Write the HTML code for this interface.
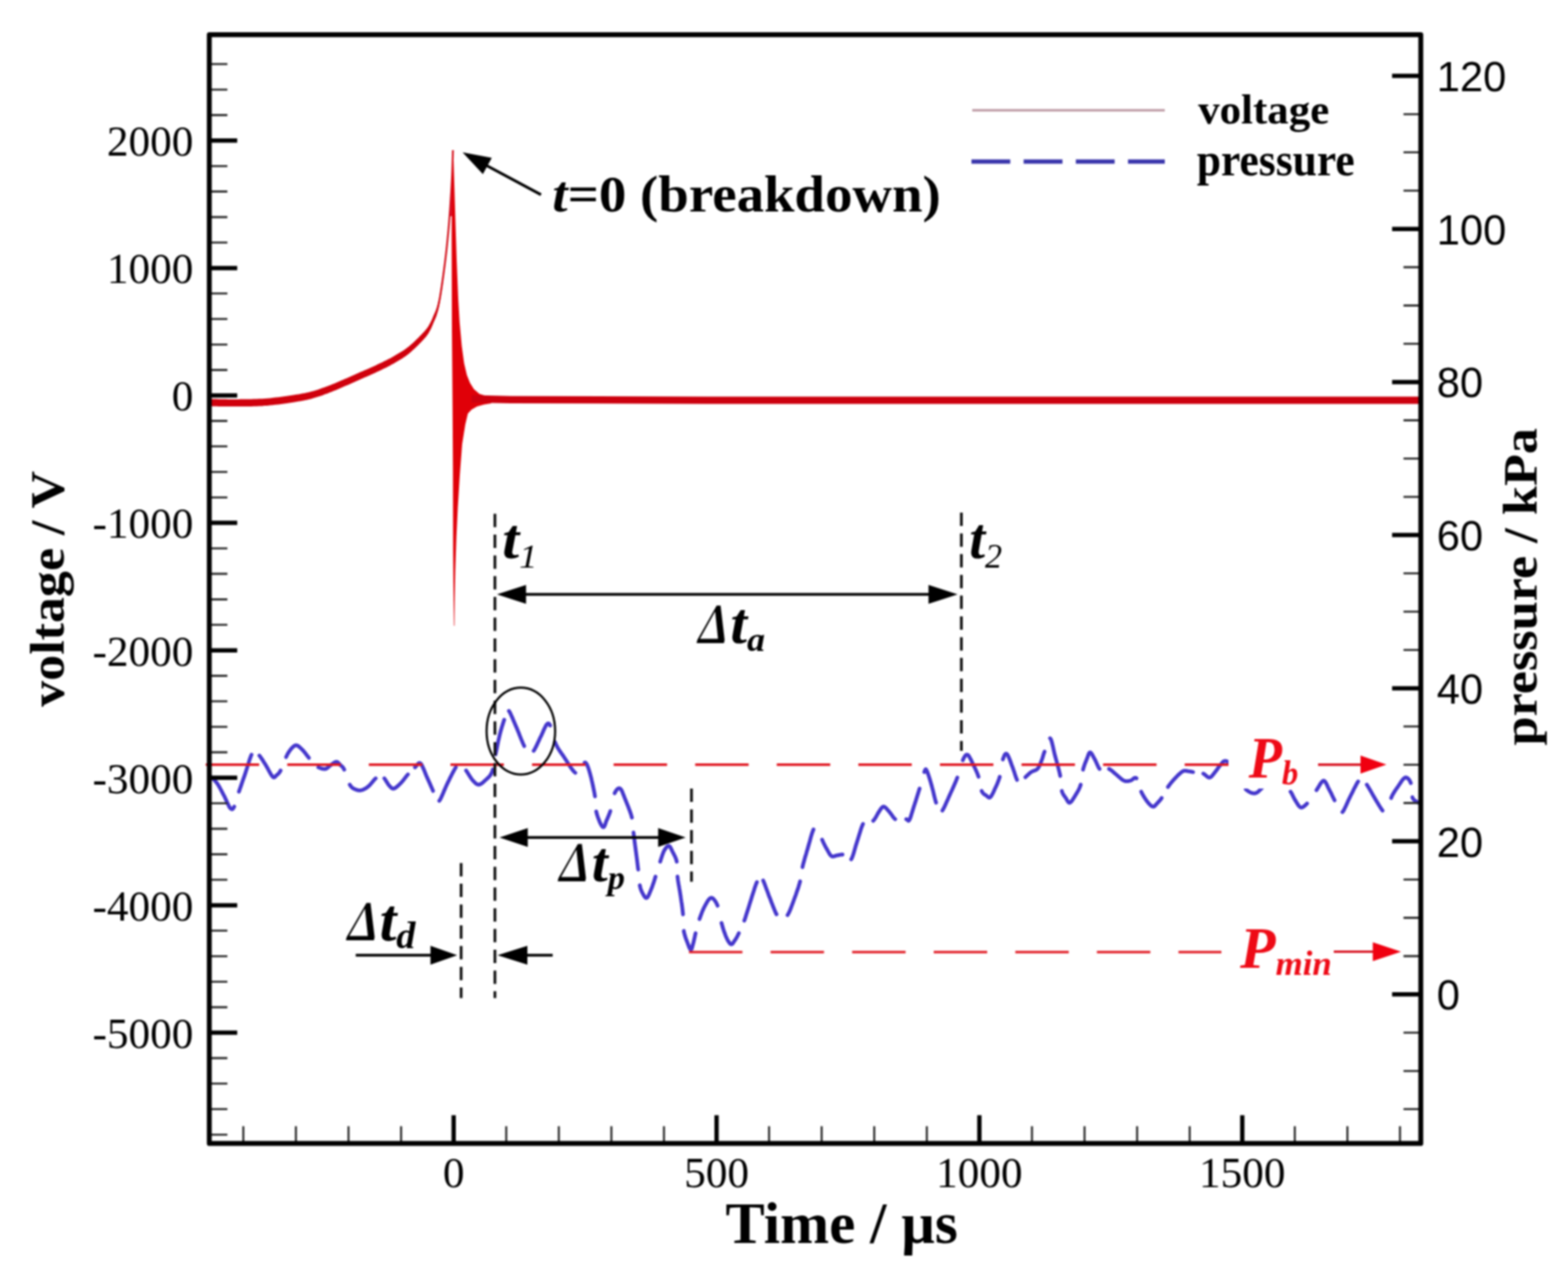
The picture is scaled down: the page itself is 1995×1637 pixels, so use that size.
<!DOCTYPE html>
<html><head><meta charset="utf-8"><title>voltage and pressure vs time</title>
<style>html,body{margin:0;padding:0;background:#fff;}svg{display:block;}.s{font-family:"Liberation Serif", "Times New Roman", serif;}.a{font-family:"Liberation Sans", Arial, sans-serif;}</style></head><body>
<div id="fig" style="width:1995px;height:1637px;overflow:hidden;filter:blur(1px)"><svg width="1995" height="1637" viewBox="0 0 1995 1637">
<rect x="0" y="0" width="1995" height="1637" fill="#fff"/>
<defs><clipPath id="pc"><rect x="266.3" y="44.2" width="1541.4" height="1410.2"/></clipPath></defs>
<line x1="1237" y1="140.3" x2="1482" y2="140.3" stroke="#bc98a2" stroke-width="3"/>
<line x1="1236" y1="205.4" x2="1482" y2="205.4" stroke="#3a36ac" stroke-width="5.5" stroke-dasharray="49.4 17"/>
<g clip-path="url(#pc)"><path d="M268,988 268.6,988.5 269.2,989.1 269.9,989.7 270.7,990.4 271.6,991.1 272.4,991.9 273.3,992.8 274.2,993.8 275.1,994.8 276,996 276.9,997.3 277.8,998.7 278.7,1000.2 279.6,1001.8 280.5,1003.5 281.4,1005.2 282.3,1006.9 283.2,1008.7 284.1,1010.4 285,1012 285.9,1013.7 286.7,1015.5 287.6,1017.4 288.4,1019.3 289.2,1021.1 290.1,1022.9 290.9,1024.5 291.6,1026 292.3,1027.1 293,1028 293.6,1028.6 294.2,1029 294.7,1029.3 295.2,1029.3 295.6,1029.2 296.1,1028.9 296.5,1028.4 297,1027.8 297.5,1027 298,1026 M304,1007 304.7,1004.9 305.5,1002.7 306.3,1000.4 307.1,998.1 307.9,995.8 308.7,993.5 309.5,991.1 310.4,988.7 311.2,986.4 312,984 312.8,981.5 313.6,978.9 314.5,976.2 315.3,973.4 316.2,970.7 317,968.1 317.8,965.6 318.6,963.4 319.3,961.5 320,960 M330,961 330.7,961.8 331.4,962.8 332.1,963.8 332.9,965 333.8,966.2 334.6,967.6 335.4,968.9 336.3,970.3 337.1,971.6 338,973 338.9,974.5 339.8,976.1 340.8,977.8 341.7,979.6 342.7,981.4 343.6,983.1 344.6,984.7 345.4,986 346.3,987.2 347,988 347.7,988.5 348.3,988.8 348.8,988.8 349.3,988.6 349.8,988.3 350.2,987.9 350.6,987.4 351.1,986.9 351.5,986.4 352,986 352.5,985.6 353,985.2 353.4,984.8 353.9,984.4 354.4,983.9 354.9,983.4 355.4,982.7 355.9,982 356.4,981.1 357,980 M364,963 364.6,961.7 365.2,960.5 365.8,959.3 366.4,958.3 367,957.2 367.6,956.3 368.2,955.4 368.8,954.6 369.4,953.8 370,953 370.7,952.2 371.3,951.5 372,950.8 372.7,950.1 373.4,949.5 374.1,949 374.8,948.5 375.5,948.2 376.3,948 377,948 377.8,948.1 378.5,948.4 379.3,948.9 380.1,949.4 380.9,950.1 381.8,950.8 382.6,951.6 383.4,952.4 384.2,953.2 385,954 385.8,954.8 386.6,955.8 387.5,956.8 388.3,957.8 389.1,958.9 389.9,960 390.7,961 391.5,962.1 392.3,963.1 393,964 M405,976 405.8,976.3 406.6,976.6 407.5,977 408.5,977.3 409.4,977.6 410.4,977.8 411.4,978 412.3,978.1 413.2,978.1 414,978 414.8,977.8 415.5,977.4 416.2,977 416.9,976.5 417.6,975.9 418.3,975.3 419,974.6 419.6,974 420.3,973.5 421,973 421.7,972.5 422.4,972 423.2,971.5 423.9,970.9 424.6,970.4 425.3,970 426,969.6 426.7,969.3 427.4,969.1 428,969 428.6,969.1 429.1,969.3 429.6,969.5 430.1,969.9 430.6,970.4 431.1,970.9 431.6,971.4 432,971.9 432.5,972.5 433,973 433.5,973.5 434,973.9 434.4,974.2 434.9,974.6 435.4,975.1 435.9,975.6 436.4,976.2 436.9,976.9 437.4,977.9 438,979 M445,998 445.7,999.1 446.4,1000.1 447.1,1000.9 447.8,1001.6 448.4,1002.1 449.1,1002.6 449.8,1003 450.5,1003.3 451.3,1003.7 452,1004 452.8,1004.3 453.5,1004.6 454.3,1004.9 455.1,1005 455.9,1005.2 456.7,1005.3 457.5,1005.3 458.3,1005.3 459.2,1005.2 460,1005 460.9,1004.8 461.7,1004.5 462.6,1004.1 463.5,1003.7 464.4,1003.2 465.4,1002.6 466.3,1002.1 467.2,1001.4 468.1,1000.7 469,1000 469.9,999.2 470.8,998.2 471.8,997.1 472.7,996 473.7,994.9 474.6,993.7 475.5,992.6 476.4,991.6 477.2,990.7 478,990 M489,990 489.6,990.7 490.1,991.5 490.7,992.4 491.3,993.4 491.9,994.4 492.6,995.5 493.2,996.5 493.8,997.4 494.4,998.3 495,999 495.6,999.7 496.2,1000.3 496.7,1000.9 497.3,1001.5 497.8,1002 498.4,1002.4 499,1002.8 499.6,1003 500.3,1003.1 501,1003 501.8,1002.8 502.6,1002.4 503.5,1001.8 504.4,1001.2 505.3,1000.4 506.3,999.6 507.2,998.7 508.2,997.8 509.1,996.9 510,996 510.9,995.1 511.8,994 512.7,992.9 513.6,991.8 514.5,990.6 515.4,989.4 516.3,988.3 517.2,987.1 518.1,986 519,985 M528,976 528.8,975.2 529.5,974.4 530.2,973.5 530.9,972.7 531.6,971.9 532.2,971.2 532.9,970.8 533.6,970.5 534.3,970.6 535,971 535.8,971.8 536.5,973 537.3,974.5 538.1,976.2 538.9,978.1 539.8,980.1 540.6,982.1 541.4,984.2 542.2,986.2 543,988 543.8,989.8 544.6,991.6 545.5,993.5 546.3,995.4 547.2,997.3 548,999.2 548.8,1001 549.6,1002.8 550.3,1004.4 551,1006 M558.9,1018.6 559.4,1017.9 560,1017 560.7,1015.8 561.4,1014.2 562.3,1012.4 563.1,1010.4 564.1,1008.2 565,1006 566,1003.7 567,1001.4 568,999.1 569,997 570,994.9 571.2,992.6 572.3,990.2 573.5,987.9 574.7,985.5 575.9,983.2 577,981.1 578.1,979.1 579.1,977.4 580,976 M593,980 593.8,981.1 594.5,982.2 595.3,983.5 596.1,984.8 596.9,986.1 597.8,987.4 598.6,988.7 599.4,989.9 600.2,991 601,992 601.8,992.9 602.6,993.8 603.4,994.6 604.2,995.4 604.9,996.1 605.7,996.8 606.5,997.3 607.3,997.7 608.2,997.9 609,998 609.9,997.9 610.8,997.6 611.7,997.2 612.6,996.7 613.5,996 614.4,995.3 615.3,994.5 616.2,993.6 617.1,992.8 618,992 618.9,991.2 619.7,990.4 620.6,989.6 621.5,988.8 622.3,987.9 623.1,986.9 623.9,985.9 624.7,984.7 625.4,983.4 626,982 626.6,980.4 627,978.8 M630.5,959.5 631.1,956.8 631.7,953.9 632.3,951 632.9,948 633.5,945 634.1,942.1 634.8,939.2 635.4,936.5 636,934 636.6,931.6 637.2,929.3 637.9,927 638.5,924.8 639.2,922.8 639.8,920.8 640.4,918.9 641,917.1 641.5,915.5 M647.5,904.2 648,905 648.7,906.1 649.4,907.6 650.2,909.3 651.1,911.3 652.1,913.4 653,915.7 654,918 655,920.4 656,922.7 657,925 658,927.3 659,929.8 660.1,932.4 661.1,935.1 662.2,937.8 663.2,940.4 664.3,942.9 665.2,945.2 666.2,947.2 667,949 M679,955 679.8,953.8 680.6,952.4 681.5,950.7 682.4,948.9 683.4,946.9 684.3,944.8 685.3,942.8 686.2,940.7 687.1,938.8 688,937 688.9,935.2 689.7,933.4 690.6,931.4 691.4,929.5 692.2,927.6 693.1,925.9 693.9,924.3 694.6,922.9 695.3,921.8 696,921 696.6,920.5 697.2,920.2 697.7,920.2 698.2,920.3 698.6,920.7 699.1,921.2 699.5,921.9 700,922.8 M706.2,944 707,946 707.8,947.8 708.7,949.4 709.5,951 710.5,952.5 711.4,954 712.4,955.5 713.5,957 714.6,958.6 715.8,960.2 717,962 718.3,964 719.8,966.3 721.4,968.8 723,971.3 724.7,973.9 726.3,976.3 727.9,978.5 729.4,980.4 730.8,982 732,983 M743.8,970 744.4,969.8 745,970 745.6,970.6 746.2,971.4 746.8,972.5 747.4,973.8 748,975.3 748.6,977 749.2,978.9 749.8,980.8 750.4,982.9 751,985 751.6,987.3 752.3,989.9 752.9,992.7 753.6,995.6 754.2,998.6 754.9,1001.7 755.5,1004.7 756.1,1007.6 756.6,1010.4 757,1013 M758.6,1032.1 759,1034 759.6,1036 760.3,1038.2 761.1,1040.5 761.9,1042.7 762.8,1044.9 763.7,1046.9 764.6,1048.7 765.5,1050.2 766.3,1051.3 767,1052 767.6,1052.2 768.2,1052 768.7,1051.4 769.2,1050.5 769.7,1049.4 770.1,1048.2 770.6,1046.8 771,1045.5 771.5,1044.2 772,1043 772.5,1041.9 773,1040.8 773.5,1039.6 774,1038.5 774.5,1037.2 775,1036 775.5,1034.6 776,1033.2 776.5,1031.6 M782,1009 782.6,1007.7 783.3,1006.5 784,1005.4 784.7,1004.5 785.4,1003.8 786.1,1003.2 786.8,1002.8 787.6,1002.6 788.3,1002.7 789,1003 789.7,1003.6 790.4,1004.5 791.1,1005.7 791.8,1007.2 792.4,1008.8 793.1,1010.5 793.8,1012.3 794.5,1014.2 795.3,1016.1 796,1018 796.8,1019.9 797.6,1022 798.5,1024.2 799.4,1026.4 800.3,1028.8 801.2,1031.1 802,1033.4 802.8,1035.7 803.4,1037.9 804,1040 M806,1059 806.5,1062.7 807,1067 807.6,1071.9 808.3,1077.1 809,1082.4 809.7,1087.8 810.4,1093 811,1097.9 811.5,1102.3 812,1106 M814,1126 814.3,1127.5 814.7,1128.9 815,1130.2 815.4,1131.3 815.8,1132.4 816.2,1133.5 816.7,1134.4 817.1,1135.3 817.6,1136.2 818,1137 818.5,1137.8 818.9,1138.7 819.4,1139.5 819.9,1140.2 820.4,1140.9 820.9,1141.5 821.4,1141.9 821.9,1142.2 822.5,1142.2 823,1142 823.6,1141.5 824.2,1140.7 824.8,1139.7 825.4,1138.6 826,1137.2 826.6,1135.8 827.2,1134.4 827.8,1132.9 828.4,1131.4 829,1130 829.5,1128.6 830,1127.3 830.5,1125.8 831,1124.4 831.5,1122.9 832,1121.4 832.5,1119.9 833,1118.3 833.5,1116.7 834,1115 M840,1096 840.5,1094.4 841,1092.8 841.5,1091.2 842,1089.7 842.5,1088.2 843,1086.8 843.5,1085.5 844,1084.2 844.5,1083.1 845,1082 845.6,1081 846.2,1080.1 846.8,1079.2 847.4,1078.4 848,1077.6 848.6,1077 849.2,1076.5 849.8,1076.2 850.4,1076 851,1076 851.5,1076.2 852.1,1076.6 852.6,1077.2 853.1,1078 853.6,1078.9 854,1079.8 854.5,1080.9 855,1081.9 855.5,1083 856,1084 856.5,1085 857.1,1086 857.6,1087.1 858.2,1088.2 858.8,1089.3 859.3,1090.5 859.8,1091.8 860.3,1093.1 860.7,1094.5 861,1096 M862,1115 862.3,1117.3 862.6,1119.6 863,1122.1 863.4,1124.7 863.9,1127.2 864.3,1129.9 864.8,1132.5 865.2,1135 865.6,1137.6 866,1140 866.3,1142.4 866.7,1144.8 867,1147.1 867.4,1149.4 867.7,1151.8 868,1154 868.3,1156.3 868.5,1158.6 868.8,1160.8 869,1163 M870,1184 870.3,1185.8 870.8,1187.6 871.2,1189.4 871.8,1191.1 872.3,1192.8 872.9,1194.4 873.4,1195.9 874,1197.4 874.5,1198.7 875,1200 875.4,1201.2 875.9,1202.4 876.3,1203.5 876.7,1204.5 877.1,1205.5 877.5,1206.3 877.9,1207 878.3,1207.6 878.6,1207.9 879,1208 879.3,1207.9 879.7,1207.5 880,1206.9 880.3,1206.2 880.6,1205.3 880.8,1204.3 881.1,1203.3 881.4,1202.2 881.7,1201.1 882,1200 882.3,1198.9 882.6,1197.8 882.8,1196.6 883.1,1195.4 883.4,1194.1 883.7,1192.8 884,1191.4 884.3,1190 884.6,1188.5 885,1187 M890,1169 890.6,1167.2 891.3,1165.4 891.9,1163.6 892.6,1161.8 893.3,1160 894,1158.2 894.8,1156.6 895.5,1154.9 896.3,1153.4 897,1152 897.8,1150.6 898.5,1149.2 899.3,1147.9 900.1,1146.5 900.9,1145.3 901.8,1144.2 902.6,1143.3 903.4,1142.6 904.2,1142.2 905,1142 905.8,1142.1 906.6,1142.5 907.5,1143.2 908.3,1144 909.2,1145 910,1146.2 910.8,1147.5 911.6,1148.9 912.3,1150.4 913,1152 M918,1174 918.6,1176 919.1,1178 919.7,1180 920.3,1181.9 920.9,1183.8 921.6,1185.6 922.2,1187.4 922.8,1189 923.4,1190.6 924,1192 924.6,1193.3 925.2,1194.6 925.8,1195.8 926.4,1196.9 927.1,1197.9 927.7,1198.8 928.3,1199.6 928.9,1200.2 929.4,1200.7 930,1201 930.5,1201.1 931.1,1201 931.6,1200.7 932.1,1200.2 932.6,1199.6 933,1199 933.5,1198.2 934,1197.5 934.5,1196.7 935,1196 935.5,1195.3 936,1194.6 936.4,1193.8 936.9,1193 937.4,1192.2 937.9,1191.3 938.4,1190.3 938.9,1189.3 939.4,1188.2 940,1187 M947,1171 947.8,1168.9 948.5,1166.6 949.3,1164.1 950.1,1161.6 950.9,1159 951.8,1156.4 952.6,1153.7 953.4,1151.1 954.2,1148.5 955,1146 955.8,1143.5 956.6,1140.8 957.5,1138.1 958.3,1135.4 959.2,1132.7 960,1130.1 960.8,1127.7 961.6,1125.5 962.3,1123.6 963,1122 M971,1120 971.6,1121.3 972.3,1123 973,1124.9 973.8,1127 974.6,1129.2 975.5,1131.6 976.4,1134 977.3,1136.4 978.1,1138.8 979,1141 979.9,1143.2 980.8,1145.6 981.7,1148.1 982.7,1150.5 983.6,1153 984.6,1155.4 985.5,1157.6 986.4,1159.7 987.2,1161.5 988,1163 M1002,1164 1002.8,1162.7 1003.6,1161.2 1004.4,1159.6 1005.2,1157.7 1006,1155.8 1006.8,1153.7 1007.6,1151.5 1008.4,1149.4 1009.2,1147.2 1010,1145 1010.8,1142.8 1011.7,1140.4 1012.6,1138 1013.4,1135.5 1014.3,1132.9 1015.2,1130.4 1016,1127.9 1016.7,1125.5 1017.4,1123.2 1018,1121 M1021,1103 1021.5,1100.8 1022.1,1098.4 1022.8,1096 1023.5,1093.4 1024.2,1090.8 1025,1088.2 1025.8,1085.6 1026.5,1083 1027.3,1080.5 1028,1078 1028.7,1075.5 1029.4,1073 1030.2,1070.4 1030.9,1067.7 1031.6,1065.2 1032.3,1062.7 1033,1060.4 1033.7,1058.4 1034.4,1056.5 1035,1055 M1046,1068 1046.6,1069.4 1047.2,1070.8 1047.8,1072.1 1048.4,1073.3 1049,1074.5 1049.6,1075.7 1050.2,1076.8 1050.8,1077.9 1051.4,1078.9 1052,1080 1052.6,1081.1 1053.2,1082.2 1053.8,1083.2 1054.4,1084.3 1054.9,1085.3 1055.5,1086.3 1056.1,1087.1 1056.7,1087.9 1057.4,1088.5 1058,1089 1058.7,1089.3 1059.3,1089.4 1060,1089.4 1060.7,1089.3 1061.4,1089.1 1062.2,1088.9 1062.9,1088.6 1063.6,1088.4 1064.3,1088.1 1065,1088 1065.7,1087.9 1066.4,1087.8 1067.2,1087.6 1067.9,1087.5 1068.6,1087.3 1069.3,1087.2 1070,1087.1 1070.7,1087 1071.4,1087 1072,1087 M1083,1093 1083.7,1091.9 1084.3,1090.4 1085,1088.6 1085.7,1086.5 1086.4,1084.2 1087.1,1081.8 1087.8,1079.3 1088.5,1076.8 1089.3,1074.3 1090,1072 1090.8,1069.6 1091.6,1067.1 1092.4,1064.4 1093.2,1061.7 1094.1,1058.9 1094.9,1056.3 1095.7,1053.8 1096.5,1051.6 1097.3,1049.6 1098,1048 M1111,1044 1111.7,1043.3 1112.4,1042.4 1113.1,1041.4 1113.8,1040.2 1114.6,1038.9 1115.3,1037.6 1116,1036.4 1116.7,1035.1 1117.3,1034 1118,1033 1118.6,1032.1 1119.2,1031.1 1119.8,1030.2 1120.4,1029.3 1121,1028.4 1121.6,1027.7 1122.2,1027 1122.8,1026.5 1123.4,1026.2 1124,1026 1124.7,1026.1 1125.3,1026.3 1126,1026.7 1126.7,1027.3 1127.4,1027.9 1128.1,1028.7 1128.8,1029.5 1129.5,1030.3 1130.3,1031.2 1131,1032 1131.8,1032.9 1132.6,1033.9 1133.4,1035 1134.2,1036.1 1135,1037.2 1135.8,1038.4 1136.6,1039.5 1137.4,1040.4 1138.2,1041.3 1139,1042 M1153,1042 1153.5,1042.1 1154,1042.3 1154.4,1042.7 1154.7,1043.1 1155.1,1043.5 1155.4,1043.8 1155.7,1044 1156.1,1044 1156.5,1043.7 1157,1043 1157.5,1042 1158.1,1040.7 1158.6,1039.1 1159.2,1037.4 1159.8,1035.4 1160.4,1033.4 1161.1,1031.3 1161.7,1029.2 1162.4,1027 1163,1025 1163.7,1023 1164.4,1020.8 1165.1,1018.7 1165.8,1016.4 1166.5,1014.2 1167.2,1011.9 1167.9,1009.7 1168.6,1007.4 1169.3,1005.2 1170,1003 M1176,982 1176.4,980.9 1176.7,980.1 1177,979.4 1177.3,978.9 1177.5,978.6 1177.7,978.4 1178,978.5 1178.3,978.8 1178.6,979.3 1179,980 1179.5,981 1180,982.2 1180.6,983.8 1181.2,985.5 1181.8,987.4 1182.5,989.5 1183.1,991.6 1183.8,993.8 1184.4,995.9 1185,998 1185.6,1000.2 1186.2,1002.5 1186.9,1005 1187.5,1007.5 1188.1,1010.1 1188.7,1012.6 1189.3,1015 1189.9,1017.2 1190.5,1019.2 1191,1021 M1199,1031 1199.7,1029.9 1200.5,1028.5 1201.3,1026.9 1202.2,1025 1203.1,1023 1204.1,1020.8 1205.1,1018.6 1206.1,1016.4 1207,1014.2 1208,1012 1209,1009.9 1210,1007.6 1211,1005.4 1212.1,1003 1213.1,1000.7 1214.2,998.3 1215.2,996 1216.2,993.6 1217.1,991.3 1218,989 M1225,967 1225.6,965.6 1226.2,964.3 1226.8,963.2 1227.4,962.2 1228,961.4 1228.6,960.7 1229.2,960.2 1229.8,959.9 1230.4,959.9 1231,960 1231.7,960.4 1232.3,961.1 1233,962.1 1233.7,963.2 1234.4,964.6 1235.2,966 1235.9,967.5 1236.6,969 1237.3,970.6 1238,972 1238.7,973.4 1239.4,974.9 1240.2,976.4 1240.9,978 1241.7,979.6 1242.4,981.3 1243.1,982.9 1243.8,984.6 1244.4,986.3 1245,988 M1249,1006 1249.5,1007.1 1250.1,1008 1250.7,1008.8 1251.3,1009.5 1251.9,1010 1252.6,1010.5 1253.2,1010.9 1253.8,1011.2 1254.4,1011.6 1255,1012 1255.5,1012.4 1256,1012.9 1256.5,1013.3 1257,1013.7 1257.5,1014.1 1258,1014.3 1258.5,1014.5 1259,1014.5 1259.5,1014.3 1260,1014 1260.6,1013.4 1261.1,1012.7 1261.7,1011.8 1262.3,1010.7 1262.9,1009.6 1263.6,1008.3 1264.2,1007 1264.8,1005.7 1265.4,1004.3 1266,1003 1266.6,1001.7 1267.2,1000.4 1267.9,999 1268.5,997.6 1269.1,996.2 1269.7,994.7 1270.3,993.1 1270.9,991.5 1271.5,989.8 1272,988 M1276,966 1276.5,964.6 1276.9,963.3 1277.4,962.1 1277.8,961 1278.3,960.1 1278.8,959.4 1279.3,958.9 1279.9,958.7 1280.4,958.7 1281,959 1281.6,959.7 1282.3,960.7 1283,962.1 1283.7,963.7 1284.4,965.5 1285.2,967.4 1285.9,969.4 1286.6,971.4 1287.3,973.3 1288,975 1288.6,976.7 1289.3,978.6 1289.9,980.5 1290.6,982.4 1291.2,984.4 1291.8,986.2 1292.4,988 1292.9,989.5 1293.5,990.9 1294,992 M1304.6,988.6 1305.4,987.8 1306.4,986.9 1307.3,986 1308.3,985.1 1309.2,984.2 1310.2,983.4 1311.1,982.7 1312,982 1312.9,981.5 1313.7,981 1314.6,980.7 1315.4,980.4 1316.2,980.1 1317.1,979.8 1317.9,979.5 1318.6,979.1 1319.3,978.6 1320,978 1320.6,977.3 1321.2,976.4 1321.8,975.5 1322.3,974.5 1322.8,973.5 1323.2,972.4 1323.7,971.3 1324.1,970.2 1324.6,969.1 1325,968 1325.4,966.9 1325.8,965.8 1326.2,964.7 1326.5,963.6 1326.9,962.4 1327.2,961.3 1327.6,960 1328,958.8 1328.5,957.4 1329,956 M1336,939 1336.6,939.5 1337.2,940.7 1337.8,942.3 1338.4,944.4 1339,946.8 1339.6,949.3 1340.2,952.1 1340.8,954.8 1341.4,957.5 1342,960 1342.7,962.5 1343.4,965.1 1344.2,967.9 1345,970.8 1345.8,973.6 1346.5,976.5 1347.2,979.3 1347.9,982 1348.5,984.6 1349,987 M1351,1006 1351.4,1007.3 1351.8,1008.5 1352.3,1009.5 1352.8,1010.5 1353.3,1011.3 1353.9,1012.1 1354.4,1012.8 1355,1013.6 1355.5,1014.3 1356,1015 1356.5,1015.8 1357,1016.6 1357.4,1017.5 1357.9,1018.3 1358.4,1019.1 1358.9,1019.8 1359.4,1020.4 1359.9,1020.8 1360.4,1021 1361,1021 1361.6,1020.7 1362.3,1020.2 1363,1019.6 1363.7,1018.7 1364.4,1017.8 1365.1,1016.7 1365.8,1015.5 1366.6,1014.4 1367.3,1013.2 1368,1012 1368.7,1010.8 1369.5,1009.6 1370.2,1008.3 1371,1007 1371.8,1005.6 1372.5,1004.2 1373.2,1002.7 1373.9,1001.2 1374.5,999.6 1375,998 M1378,979 1378.4,977.4 1378.9,975.8 1379.4,974.2 1379.9,972.8 1380.4,971.3 1381,969.9 1381.5,968.6 1382,967.3 1382.5,966.1 1383,965 1383.4,963.9 1383.8,962.7 1384.2,961.6 1384.6,960.6 1384.9,959.6 1385.3,958.7 1385.7,958 1386.1,957.4 1386.5,957.1 1387,957 1387.5,957.2 1388.1,957.7 1388.7,958.4 1389.3,959.2 1389.9,960.2 1390.5,961.4 1391.1,962.5 1391.8,963.7 1392.4,964.9 1393,966 1393.6,967.1 1394.2,968.4 1394.8,969.7 1395.4,971.1 1396,972.5 1396.6,973.8 1397.2,975.1 1397.8,976.3 1398.4,977.2 1399,978 M1411,978 1411.8,978.4 1412.6,978.9 1413.4,979.5 1414.3,980.2 1415.2,980.9 1416.2,981.7 1417.1,982.6 1418.1,983.4 1419,984.2 1420,985 1421,985.8 1422,986.7 1423,987.6 1424,988.5 1425.1,989.4 1426.1,990.3 1427.1,991.2 1428.1,991.9 1429.1,992.5 1430,993 1430.9,993.3 1431.7,993.6 1432.5,993.7 1433.3,993.7 1434.1,993.7 1434.9,993.6 1435.7,993.5 1436.4,993.3 1437.2,993.2 1438,993 1438.8,992.7 1439.6,992.3 1440.5,991.7 1441.3,991.1 1442.1,990.4 1442.9,989.9 1443.7,989.5 1444.5,989.4 1445.3,989.5 1446,990 M1452,1007 1452.7,1008.5 1453.5,1010 1454.3,1011.4 1455.1,1012.8 1455.9,1014.2 1456.8,1015.5 1457.6,1016.7 1458.4,1017.9 1459.2,1019 1460,1020 1460.7,1020.9 1461.5,1021.8 1462.2,1022.6 1463,1023.4 1463.7,1024.1 1464.4,1024.7 1465.1,1025.2 1465.7,1025.6 1466.4,1025.8 1467,1026 1467.6,1026 1468.1,1025.9 1468.6,1025.6 1469.1,1025.3 1469.6,1024.8 1470,1024.3 1470.5,1023.7 1471,1023.2 1471.5,1022.6 1472,1022 1472.6,1021.5 1473.1,1020.9 1473.7,1020.3 1474.2,1019.8 1474.8,1019.1 1475.4,1018.4 1476,1017.7 1476.7,1016.9 1477.3,1016 1478,1015 M1486,1001 1486.9,999.8 1487.7,998.6 1488.6,997.4 1489.5,996.3 1490.4,995.2 1491.3,994.1 1492.2,993.1 1493.1,992 1494.1,991 1495,990 1496,989 1497,987.9 1498,986.9 1499.1,985.8 1500.1,984.8 1501.2,983.9 1502.2,983 1503.2,982.2 1504.1,981.5 1505,981 1505.8,980.6 1506.6,980.4 1507.4,980.3 1508.1,980.3 1508.8,980.4 1509.4,980.5 1510.1,980.6 1510.7,980.8 1511.4,980.9 1512,981 1512.6,981.1 1513.2,981.1 1513.8,981.2 1514.4,981.3 1515,981.4 1515.6,981.6 1516.2,981.7 1516.8,981.8 1517.4,981.9 1518,982 M1531,984 1531.7,984.4 1532.5,984.9 1533.3,985.6 1534.1,986.3 1534.9,987 1535.8,987.7 1536.6,988.3 1537.4,988.7 1538.2,989 1539,989 1539.7,988.8 1540.5,988.4 1541.2,987.8 1541.9,987.1 1542.6,986.3 1543.3,985.4 1544,984.6 1544.7,983.7 1545.3,982.8 1546,982 1546.6,981.2 1547.3,980.4 1547.9,979.6 1548.5,978.8 1549.1,977.9 1549.6,977.1 1550.2,976.3 1550.8,975.5 1551.4,974.7 1552,974 1552.6,973.3 1553.2,972.5 1553.8,971.7 1554.4,971 1554.9,970.2 1555.5,969.6 1556.1,969 1556.7,968.5 1557.4,968.2 1558,968 1558.6,967.9 1559.3,967.9 1559.9,968 1560.6,968.2 1561.2,968.5 1561.9,968.9 1562.6,969.5 M1585,1004 1586.1,1004.9 1587.3,1005.8 1588.5,1006.6 1589.7,1007.3 1590.9,1007.9 1592.2,1008.4 1593.4,1008.8 1594.6,1009 1595.8,1009.1 1597,1009 1598.1,1008.7 1599.2,1008.1 1600.3,1007.4 1601.4,1006.5 1602.5,1005.4 1603.6,1004.3 1604.7,1003.2 1605.8,1002.1 1606.9,1001 1608,1000 1609.2,999 1610.3,997.8 1611.5,996.6 M1642,1007 1642.8,1008.1 1643.4,1009.3 1644.1,1010.4 1644.6,1011.6 1645.2,1012.7 1645.7,1013.8 1646.3,1014.9 1646.8,1015.9 1647.4,1017 1648,1018 1648.7,1019 1649.3,1020.2 1650,1021.3 1650.7,1022.4 1651.4,1023.5 1652.1,1024.5 1652.8,1025.4 1653.5,1026.1 1654.3,1026.7 1655,1027 1655.8,1027.1 1656.6,1027 1657.4,1026.7 1658.2,1026.2 1659.1,1025.6 1659.9,1025 1660.7,1024.2 1661.5,1023.5 1662.3,1022.7 1663,1022 M1675,1005 1675.8,1003.9 1676.6,1002.5 1677.5,1001 1678.5,999.4 1679.4,997.8 1680.4,996.3 1681.4,995 1682.3,994 1683.2,993.3 1684,993 1684.8,993.2 1685.5,993.7 1686.2,994.5 1686.9,995.6 1687.6,996.9 1688.3,998.3 1689,999.8 1689.6,1001.2 1690.3,1002.7 1691,1004 1691.7,1005.3 1692.4,1006.7 1693.2,1008.1 1693.9,1009.6 1694.6,1011.1 1695.3,1012.5 1696,1014 1696.7,1015.4 1697.4,1016.7 1698,1018 M1708,1033 1708.8,1032 1709.7,1030.6 1710.6,1028.8 1711.6,1026.8 1712.7,1024.5 1713.8,1022.1 1714.8,1019.7 1715.9,1017.3 1717,1015.1 1718,1013 1719,1011 1720.1,1008.9 1721.2,1006.7 1722.2,1004.5 1723.3,1002.4 1724.4,1000.3 1725.4,998.4 1726.3,996.7 1727.2,995.2 1728,994 M1739,998 1739.8,999.3 1740.7,1000.7 1741.7,1002.3 1742.7,1004.1 1743.8,1005.9 1744.8,1007.7 1745.9,1009.6 1746.9,1011.5 1748,1013.3 1749,1015 1750,1016.7 1751.1,1018.5 1752.1,1020.3 1753.2,1022 1754.2,1023.8 1755.3,1025.5 1756.3,1027.1 1757.3,1028.6 1758.2,1029.9 1759,1031 M1770,1015 1770.7,1013.3 1771.5,1011.6 1772.4,1010 1773.3,1008.4 1774.2,1006.9 1775.2,1005.5 1776.2,1004 1777.1,1002.7 1778.1,1001.3 1779,1000 1779.9,998.7 1780.8,997.3 1781.8,995.8 1782.7,994.4 1783.6,993.1 1784.5,991.9 1785.4,990.9 1786.3,990 1787.2,989.4 1788,989 1788.8,988.9 1789.6,989.1 1790.4,989.4 1791.2,990 1791.9,990.7 1792.7,991.5 1793.3,992.5 1794,993.6 1794.5,994.8 1795,996 M1797,1014 1797.4,1015.1 1798,1016 1798.5,1016.8 1799.2,1017.5 1799.8,1018 1800.5,1018.5 1801.1,1018.9 1801.8,1019.2 1802.4,1019.6 1803,1020 1803.6,1020.4 1804.1,1020.7 1804.7,1021 1805.3,1021.2 1805.9,1021.4 1806.4,1021.5 1806.9,1021.7 1807.3,1021.8 1807.7,1021.9 1808,1022" fill="none" stroke="#4436cc" stroke-width="4.8" stroke-linecap="round" stroke-linejoin="round"/></g>
<line x1="261.7" y1="972.6" x2="1564" y2="972.6" stroke="#e0141e" stroke-width="3.2" stroke-dasharray="68 35.8"/>
<line x1="876.6" y1="1211" x2="1554" y2="1211" stroke="#e0141e" stroke-width="3.2" stroke-dasharray="68 35.8"/>
<rect x="1563" y="930" width="78" height="73" fill="#fff"/>
<g clip-path="url(#pc)">
<path d="M267,512 C272.5,512.1 287.8,512.6 300,512.5 C312.2,512.4 326.7,512.4 340,511.3 C353.3,510.2 370,507.6 380,506 C390,504.4 393.3,503.4 400,501.5 C406.7,499.6 413.3,497.1 420,494.5 C426.7,491.9 433.5,488.9 440.2,486 C446.9,483.1 453.5,480.2 460.2,477.2 C466.9,474.2 473.6,471.4 480.3,468.2 C487,465 493.6,462 500.3,458.1 C507,454.2 513.8,450.5 520.4,445.1 C527,439.8 535.6,430.9 540,426 C544.4,421.1 545,419.5 547,416 C549,412.5 550.5,408.5 552,405 C553.5,401.5 554.8,399.2 556,395 C557.2,390.8 558.1,387.7 559.5,380 C560.9,372.3 562.8,359.1 564.2,349 C565.6,338.9 566.8,329.2 567.9,319.4 C569,309.6 569.9,299.8 570.8,290 C571.6,280.2 572.3,271.7 573,260.7 C573.7,249.7 574.7,235.6 575.2,224 C575.8,212.4 576.1,196.5 576.3,191" fill="none" stroke="#d0000c" stroke-width="2.2"/>
<polygon points="267,507.4 268.6,507.4 270.5,507.5 272.8,507.5 275.3,507.6 278.1,507.7 281,507.7 284.1,507.8 287.3,507.8 290.5,507.9 293.7,507.9 296.9,507.9 300,507.9 303.1,507.9 306.3,507.8 309.5,507.8 312.8,507.8 316.2,507.7 319.6,507.7 323,507.6 326.4,507.5 329.8,507.3 333.3,507.2 336.6,506.9 340,506.7 343.4,506.4 346.9,506 350.5,505.6 354.1,505.2 357.7,504.7 361.2,504.3 364.8,503.8 368.1,503.3 371.4,502.8 374.5,502.3 377.4,501.8 380,501.4 382.4,501 384.5,500.6 386.4,500.3 388.1,499.9 389.8,499.6 391.2,499.3 392.7,498.9 394.1,498.6 395.5,498.2 396.9,497.8 398.4,497.4 400,496.9 401.7,496.4 403.3,495.9 405,495.4 406.7,494.8 408.3,494.2 410,493.6 411.7,493 413.3,492.4 415,491.8 416.7,491.2 418.3,490.5 420,489.9 421.7,489.2 423.4,488.6 425,487.9 426.7,487.2 428.4,486.5 430.1,485.8 431.8,485 433.5,484.3 435.2,483.6 436.8,482.9 438.5,482.1 440.2,481.4 441.9,480.7 443.5,480 445.2,479.2 446.9,478.5 448.5,477.8 450.2,477 451.9,476.3 453.5,475.6 455.2,474.8 456.9,474.1 458.5,473.3 460.2,472.6 461.9,471.9 463.5,471.1 465.2,470.4 466.9,469.7 468.6,468.9 470.3,468.2 471.9,467.4 473.6,466.7 475.3,465.9 477,465.2 478.6,464.4 480.3,463.6 482,462.8 483.6,462 485.3,461.2 487,460.4 488.6,459.6 490.3,458.8 492,458 493.6,457.1 495.3,456.3 497,455.4 498.6,454.4 500.3,453.5 502,452.5 503.6,451.6 505.3,450.6 507,449.6 508.7,448.6 510.4,447.6 512.1,446.5 513.7,445.4 515.4,444.2 517.1,443.1 518.7,441.8 520.4,440.5 522.1,439.1 523.8,437.6 525.6,435.9 527.4,434.2 529.2,432.5 531,430.8 532.8,429 534.4,427.3 536,425.7 537.5,424.1 538.8,422.7 540,421.4 541,420.3 541.9,419.2 542.7,418.3 543.3,417.4 543.9,416.6 544.4,415.9 544.9,415.2 545.3,414.5 545.7,413.8 546.1,413 546.5,412.2 547,411.4 547.5,410.5 548,409.6 548.4,408.7 548.9,407.8 549.3,406.8 549.7,405.9 550.1,405 550.5,404 550.9,403.1 551.2,402.2 551.6,401.3 552,400.4 552.4,399.5 552.7,398.7 553.1,397.9 553.4,397.2 553.8,396.4 554.1,395.6 554.4,394.9 554.7,394.1 555.1,393.2 555.4,392.3 555.7,391.4 556,390.4 556.3,389.4 556.6,388.4 556.9,387.4 557.2,386.4 557.4,385.3 557.7,384.2 558,383 558.3,381.8 558.6,380.4 558.9,378.9 559.2,377.2 559.5,375.4 559.9,373.4 560.2,371.1 560.6,368.7 561,366.2 561.4,363.5 561.8,360.8 562.3,358 562.7,355.2 563.1,352.4 563.5,349.7 563.8,347 564.2,344.4 564.5,341.9 564.9,339.4 565.2,336.9 565.5,334.4 565.9,332 566.2,329.5 566.5,327 566.8,324.6 567.1,322.2 567.3,319.7 567.6,317.3 567.9,314.8 568.2,312.3 568.4,309.9 568.7,307.4 569,305 569.2,302.5 569.4,300.1 569.7,297.6 569.9,295.2 570.1,292.7 570.4,290.3 570.6,287.8 570.8,285.4 571,283 571.2,280.6 571.4,278.2 571.6,275.9 571.8,273.6 571.9,271.2 572.1,268.8 572.3,266.4 572.5,263.9 572.6,261.4 572.8,258.8 573,256.1 573.2,253.3 573.4,250.4 573.6,247.4 573.8,244.3 574,241.1 574.2,238 574.4,234.8 574.4,244 574.2,247.2 574,250.3 573.8,253.5 573.6,256.6 573.4,259.6 573.2,262.5 573,265.3 572.8,268 572.6,270.6 572.5,273.1 572.3,275.6 572.1,278 571.9,280.4 571.8,282.8 571.6,285.1 571.4,287.4 571.2,289.8 571,292.2 570.8,294.6 570.6,297 570.4,299.5 570.1,301.9 569.9,304.4 569.7,306.8 569.4,309.3 569.2,311.7 569,314.2 568.7,316.6 568.4,319.1 568.2,321.5 567.9,324 567.6,326.5 567.3,328.9 567.1,331.4 566.8,333.8 566.5,336.2 566.2,338.7 565.9,341.2 565.5,343.6 565.2,346.1 564.9,348.6 564.5,351.1 564.2,353.6 563.8,356.2 563.5,358.9 563.1,361.6 562.7,364.4 562.3,367.2 561.8,370 561.4,372.7 561,375.4 560.6,377.9 560.2,380.3 559.9,382.6 559.5,384.6 559.2,386.4 558.9,388.1 558.6,389.6 558.3,391 558,392.2 557.7,393.4 557.4,394.5 557.2,395.6 556.9,396.6 556.6,397.6 556.3,398.6 556,399.6 555.7,400.6 555.4,401.5 555.1,402.4 554.7,403.3 554.4,404.1 554.1,404.9 553.8,405.6 553.4,406.4 553.1,407.1 552.7,407.9 552.4,408.7 552,409.6 551.6,410.5 551.2,411.4 550.9,412.3 550.5,413.2 550.1,414.2 549.7,415.1 549.3,416 548.9,417 548.4,417.9 548,418.8 547.5,419.7 547,420.6 546.5,421.4 546.1,422.2 545.7,423 545.3,423.7 544.9,424.4 544.4,425.1 543.9,425.8 543.3,426.6 542.7,427.5 541.9,428.4 541,429.5 540,430.6 538.8,431.9 537.5,433.3 536,434.9 534.4,436.5 532.8,438.2 531,440 529.2,441.7 527.4,443.4 525.6,445.1 523.8,446.8 522.1,448.3 520.4,449.7 518.7,451 517.1,452.3 515.4,453.4 513.7,454.6 512.1,455.7 510.4,456.8 508.7,457.8 507,458.8 505.3,459.8 503.6,460.8 502,461.7 500.3,462.7 498.6,463.6 497,464.6 495.3,465.5 493.6,466.3 492,467.2 490.3,468 488.6,468.8 487,469.6 485.3,470.4 483.6,471.2 482,472 480.3,472.8 478.6,473.6 477,474.4 475.3,475.1 473.6,475.9 471.9,476.6 470.3,477.4 468.6,478.1 466.9,478.9 465.2,479.6 463.5,480.3 461.9,481.1 460.2,481.8 458.5,482.5 456.9,483.3 455.2,484 453.5,484.8 451.9,485.5 450.2,486.2 448.5,487 446.9,487.7 445.2,488.4 443.5,489.2 441.9,489.9 440.2,490.6 438.5,491.3 436.8,492.1 435.2,492.8 433.5,493.5 431.8,494.2 430.1,495 428.4,495.7 426.7,496.4 425,497.1 423.4,497.8 421.7,498.4 420,499.1 418.3,499.7 416.7,500.4 415,501 413.3,501.6 411.7,502.2 410,502.9 408.3,503.4 406.7,504 405,504.6 403.3,505.1 401.7,505.6 400,506.1 398.4,506.6 396.9,507 395.5,507.4 394.1,507.8 392.7,508.1 391.2,508.5 389.8,508.8 388.1,509.1 386.4,509.5 384.5,509.8 382.4,510.2 380,510.6 377.4,511 374.5,511.5 371.4,512 368.1,512.5 364.8,513 361.2,513.5 357.7,513.9 354.1,514.4 350.5,514.8 346.9,515.2 343.4,515.6 340,515.9 336.6,516.1 333.3,516.4 329.8,516.5 326.4,516.7 323,516.8 319.6,516.9 316.2,516.9 312.8,517 309.5,517 306.3,517 303.1,517.1 300,517.1 296.9,517.1 293.7,517.1 290.5,517.1 287.3,517 284.1,517 281,516.9 278.1,516.9 275.3,516.8 272.8,516.7 270.5,516.7 268.6,516.6 267,516.6" fill="#d0000c"/>
<polygon points="575,230 576.3,191 577.1,205 578.2,240 579.5,283 581,330 583,380 584.8,410 587.5,440 590.5,462 594,477 598,487 603,495 610,501 618,503.5 625,504.5 625,513 616,514.5 607,517 600,521 595.3,526 592,540 588,565 585,604.5 582.5,645 580.7,683.5 579.3,725 578.5,762.6 578.3,796 577.6,796 577,762 576.5,700 576.3,600 575.8,520 575,420 574.6,300" fill="#e00008"/>
<polygon points="576.3,191 575.2,224 573,260.7 572.2,275 575,275 575,230" fill="#d8102a"/>
<path d="M600,502.5 L650,503.8 L900,504.4 L1808,504.4 L1808,513.8 L900,513.8 L650,513 L600,512 Z" fill="#cc000e"/>
</g>
<line x1="629.7" y1="653.6" x2="629.7" y2="1269.4" stroke="#111" stroke-width="3.5" stroke-dasharray="17 9.4"/>
<line x1="1223.2" y1="652" x2="1223.2" y2="955" stroke="#111" stroke-width="3.5" stroke-dasharray="17 9.4"/>
<line x1="879.8" y1="1003" x2="879.8" y2="1121.6" stroke="#111" stroke-width="3.5" stroke-dasharray="17 9.4"/>
<line x1="586.7" y1="1097.7" x2="586.7" y2="1269.4" stroke="#111" stroke-width="3.5" stroke-dasharray="17 9.4"/>
<line x1="650" y1="756.1" x2="1200" y2="756.1" stroke="#000" stroke-width="3.5"/>
<polygon points="632.3,756.1 669.3,744.1 669.3,768.1" fill="#000"/>
<polygon points="1218.4,756.1 1181.4,768.1 1181.4,744.1" fill="#000"/>
<line x1="650" y1="1065.2" x2="860" y2="1065.2" stroke="#000" stroke-width="3.5"/>
<polygon points="635.5,1065.2 671.5,1053.2 671.5,1077.2" fill="#000"/>
<polygon points="872.4,1065.2 837.4,1077.2 837.4,1053.2" fill="#000"/>
<line x1="452.6" y1="1215" x2="560" y2="1215" stroke="#000" stroke-width="3.5"/>
<polygon points="581.7,1215 547.7,1227 547.7,1203" fill="#000"/>
<line x1="650" y1="1215" x2="703.2" y2="1215" stroke="#000" stroke-width="3.5"/>
<polygon points="633,1215 671,1203 671,1227" fill="#000"/>
<line x1="688.3" y1="247.6" x2="614.8" y2="208.2" stroke="#000" stroke-width="3.5"/>
<polygon points="588.5,193.8 625.7,200.8 614.4,221.5" fill="#000"/>
<line x1="1677" y1="972.6" x2="1735" y2="972.6" stroke="#d81422" stroke-width="3.2"/>
<polygon points="1764,972.6 1731,984.1 1731,961.1" fill="#f00010"/>
<line x1="1697" y1="1210.5" x2="1750" y2="1210.5" stroke="#d81422" stroke-width="3.2"/>
<polygon points="1782.6,1210.5 1746.6,1222.5 1746.6,1198.5" fill="#f00010"/>
<ellipse cx="662.7" cy="929.9" rx="43.6" ry="55.2" fill="none" stroke="#000" stroke-width="2.7"/>
<path d="M266.3,178.8H301.8M266.3,340.9H301.8M266.3,503H301.8M266.3,665.1H301.8M266.3,827.2H301.8M266.3,989.3H301.8M266.3,1151.4H301.8M266.3,1313.5H301.8M577.2,1454.4V1418.4M911.7,1454.4V1418.4M1246.1,1454.4V1418.4M1580.6,1454.4V1418.4M1807.7,1264.8H1771.2M1807.7,1070.1H1771.2M1807.7,875.4H1771.2M1807.7,680.6H1771.2M1807.7,485.9H1771.2M1807.7,291.2H1771.2M1807.7,96.5H1771.2" stroke="#000" stroke-width="5.5" fill="none"/>
<path d="M266.3,81.5H289.3M266.3,114H289.3M266.3,146.4H289.3M266.3,211.2H289.3M266.3,243.6H289.3M266.3,276.1H289.3M266.3,308.5H289.3M266.3,373.3H289.3M266.3,405.7H289.3M266.3,438.2H289.3M266.3,470.6H289.3M266.3,535.4H289.3M266.3,567.8H289.3M266.3,600.3H289.3M266.3,632.7H289.3M266.3,697.5H289.3M266.3,729.9H289.3M266.3,762.4H289.3M266.3,794.8H289.3M266.3,859.6H289.3M266.3,892H289.3M266.3,924.5H289.3M266.3,956.9H289.3M266.3,1021.7H289.3M266.3,1054.1H289.3M266.3,1086.6H289.3M266.3,1119H289.3M266.3,1183.8H289.3M266.3,1216.2H289.3M266.3,1248.7H289.3M266.3,1281.1H289.3M266.3,1345.9H289.3M266.3,1378.3H289.3M266.3,1410.8H289.3M266.3,1443.2H289.3M309.6,1454.4V1432.4M376.5,1454.4V1432.4M443.4,1454.4V1432.4M510.3,1454.4V1432.4M644.1,1454.4V1432.4M711,1454.4V1432.4M777.9,1454.4V1432.4M844.8,1454.4V1432.4M978.5,1454.4V1432.4M1045.4,1454.4V1432.4M1112.3,1454.4V1432.4M1179.2,1454.4V1432.4M1313,1454.4V1432.4M1379.9,1454.4V1432.4M1446.8,1454.4V1432.4M1513.7,1454.4V1432.4M1647.4,1454.4V1432.4M1714.3,1454.4V1432.4M1781.2,1454.4V1432.4M1807.7,1410.8H1785.7M1807.7,1362.2H1785.7M1807.7,1313.5H1785.7M1807.7,1216.1H1785.7M1807.7,1167.4H1785.7M1807.7,1118.8H1785.7M1807.7,1021.4H1785.7M1807.7,972.7H1785.7M1807.7,924H1785.7M1807.7,826.7H1785.7M1807.7,778H1785.7M1807.7,729.3H1785.7M1807.7,632H1785.7M1807.7,583.3H1785.7M1807.7,534.6H1785.7M1807.7,437.2H1785.7M1807.7,388.6H1785.7M1807.7,339.9H1785.7M1807.7,242.5H1785.7M1807.7,193.8H1785.7M1807.7,145.2H1785.7" stroke="#2a2a2a" stroke-width="2.6" fill="none"/>
<rect x="266.3" y="44.2" width="1541.4" height="1410.2" fill="none" stroke="#000" stroke-width="6.2" stroke-linejoin="round"/>
<text class="s" x="246" y="198.1" font-size="55" text-anchor="end">2000</text>
<text class="s" x="246" y="360.2" font-size="55" text-anchor="end">1000</text>
<text class="s" x="246" y="522.3" font-size="55" text-anchor="end">0</text>
<text class="s" x="246" y="684.4" font-size="55" text-anchor="end">-1000</text>
<text class="s" x="246" y="846.5" font-size="55" text-anchor="end">-2000</text>
<text class="s" x="246" y="1008.6" font-size="55" text-anchor="end">-3000</text>
<text class="s" x="246" y="1170.7" font-size="55" text-anchor="end">-4000</text>
<text class="s" x="246" y="1332.8" font-size="55" text-anchor="end">-5000</text>
<text class="s" x="577.2" y="1509.5" font-size="55" text-anchor="middle">0</text>
<text class="s" x="911.7" y="1509.5" font-size="55" text-anchor="middle">500</text>
<text class="s" x="1246.1" y="1509.5" font-size="55" text-anchor="middle">1000</text>
<text class="s" x="1580.6" y="1509.5" font-size="55" text-anchor="middle">1500</text>
<text class="a" x="1828" y="1284.3" font-size="53">0</text>
<text class="a" x="1828" y="1089.6" font-size="53">20</text>
<text class="a" x="1828" y="894.9" font-size="53">40</text>
<text class="a" x="1828" y="700.1" font-size="53">60</text>
<text class="a" x="1828" y="505.4" font-size="53">80</text>
<text class="a" x="1828" y="310.7" font-size="53">100</text>
<text class="a" x="1828" y="116" font-size="53">120</text>
<text class="s" transform="translate(923.00,1581.35) scale(0.9993,0.9971)" x="0" y="0" font-size="75" font-weight="bold" fill="#000">Time / µs</text>
<text class="s" transform="translate(81.08,899.00) rotate(-90) scale(1.0177,0.9517)" x="0" y="0" font-size="65" font-weight="bold" fill="#000">voltage / V</text>
<text class="s" transform="translate(1955.46,948.32) rotate(-90) scale(1.0229,0.9383)" x="0" y="0" font-size="65" font-weight="bold" fill="#000">pressure / kPa</text>
<text class="s" transform="translate(1524.40,157.38) scale(1.0306,0.9833)" x="0" y="0" font-size="53" font-weight="bold" fill="#000">voltage</text>
<text class="s" transform="translate(1522.76,222.78) scale(1.0437,1.1200)" x="0" y="0" font-size="53" font-weight="bold" fill="#000">pressure</text>
<text class="s" transform="translate(702.82,269.04) scale(1.0908,1.0281)" x="0" y="0" font-size="64" font-weight="bold" fill="#000"><tspan font-style="italic">t</tspan>=0 (breakdown)</text>
<text class="s" transform="translate(638.89,710.31) scale(1.1059,1.0260)" x="0" y="0" font-size="70" font-weight="bold" font-style="italic" fill="#000">t<tspan font-size="42" dy="11" font-weight="normal">1</tspan></text>
<text class="s" transform="translate(1233.23,710.12) scale(1.0342,1.0440)" x="0" y="0" font-size="70" font-weight="bold" font-style="italic" fill="#000">t<tspan font-size="42" dy="11" font-weight="normal">2</tspan></text>
<text transform="translate(883.62,817.70) scale(0.8595,0.9694)" x="0" y="0" font-family="Noto Serif CJK SC" font-size="66" font-weight="bold" font-style="italic" fill="#000">&#916;</text>
<text class="s" transform="translate(929.22,818.16) scale(1.0892,1.0604)" x="0" y="0" font-size="70" font-weight="bold" font-style="italic" fill="#000">t<tspan font-size="42" dy="9">a</tspan></text>
<text transform="translate(706.80,1121.20) scale(0.8667,0.9673)" x="0" y="0" font-family="Noto Serif CJK SC" font-size="66" font-weight="bold" font-style="italic" fill="#000">&#916;</text>
<text class="s" transform="translate(753.01,1120.81) scale(1.0432,1.0362)" x="0" y="0" font-size="70" font-weight="bold" font-style="italic" fill="#000">t<tspan font-size="42" dy="10">p</tspan></text>
<text transform="translate(437.26,1195.70) scale(0.8810,0.9673)" x="0" y="0" font-family="Noto Serif CJK SC" font-size="66" font-weight="bold" font-style="italic" fill="#000">&#916;</text>
<text class="s" transform="translate(482.90,1195.68) scale(1.1025,1.1021)" x="0" y="0" font-size="70" font-weight="bold" font-style="italic" fill="#000">t<tspan font-size="44" dy="9">d</tspan></text>
<text class="s" transform="translate(1588.70,989.25) scale(0.9903,1.0685)" x="0" y="0" font-size="70" font-weight="bold" font-style="italic" fill="#ee0a16">P<tspan font-size="42" dy="8">b</tspan></text>
<text class="s" transform="translate(1577.80,1231.21) scale(1.0556,1.0611)" x="0" y="0" font-size="70" font-weight="bold" font-style="italic" fill="#ee0a16">P<tspan font-size="42" dy="8">min</tspan></text>
</svg></div></body></html>
